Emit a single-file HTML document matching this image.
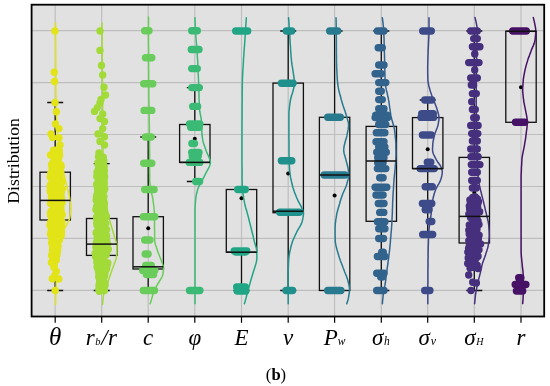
<!DOCTYPE html>
<html><head><meta charset="utf-8"><title>Distribution (b)</title>
<style>html,body{margin:0;padding:0;background:#fff}body{width:550px;height:386px;overflow:hidden}svg{display:block}</style>
</head><body>
<svg width="550" height="386" viewBox="0 0 550 386">
<rect x="31.6" y="4.7" width="512.6" height="311.8" fill="#e1e1e1"/>
<g stroke="#bebebe" stroke-width="1.2" fill="none">
<path d="M31.6 30.6H544.2"/>
<path d="M31.6 82.6H544.2"/>
<path d="M31.6 134.5H544.2"/>
<path d="M31.6 186.5H544.2"/>
<path d="M31.6 238.4H544.2"/>
<path d="M31.6 290.4H544.2"/>
<path d="M55.2 4.7V316.5"/>
<path d="M101.7 4.7V316.5"/>
<path d="M148.2 4.7V316.5"/>
<path d="M194.8 4.7V316.5"/>
<path d="M241.5 4.7V316.5"/>
<path d="M288.2 4.7V316.5"/>
<path d="M334.6 4.7V316.5"/>
<path d="M381.3 4.7V316.5"/>
<path d="M427.7 4.7V316.5"/>
<path d="M474.3 4.7V316.5"/>
<path d="M521 4.7V316.5"/>
</g>
<g stroke="#111" stroke-width="1.3" fill="none">
<rect x="40" y="172.2" width="30.4" height="47.8"/>
<path d="M55.2 172.2V102.5 M47.2 102.5H63.2"/>
<path d="M55.2 220V290.5 M47.2 290.5H63.2"/>
<rect x="86.5" y="218.5" width="30.4" height="36.9"/>
<path d="M101.7 218.5V163.6 M93.7 163.6H109.7"/>
<path d="M101.7 255.4V290.5 M93.7 290.5H109.7"/>
<rect x="133" y="216.7" width="30.4" height="52.3"/>
<path d="M148.2 216.7V137 M140.2 137H156.2"/>
<path d="M148.2 269V290.5 M140.2 290.5H156.2"/>
<rect x="179.6" y="124.5" width="30.4" height="37.9"/>
<path d="M194.8 124.5V87.6 M186.8 87.6H202.8"/>
<path d="M194.8 162.4V181.5 M186.8 181.5H202.8"/>
<rect x="226.3" y="189.5" width="30.4" height="62.7"/>
<path d="M241.5 252.2V290.5 M233.5 290.5H249.5"/>
<rect x="273" y="83.1" width="30.4" height="129.6"/>
<path d="M288.2 83.1V31 M280.2 31H296.2"/>
<path d="M288.2 212.7V290.5 M280.2 290.5H296.2"/>
<rect x="319.4" y="117.3" width="30.4" height="173.2"/>
<path d="M334.6 117.3V31 M326.6 31H342.6"/>
<rect x="366.1" y="126.4" width="30.4" height="94.9"/>
<path d="M381.3 126.4V31 M373.3 31H389.3"/>
<path d="M381.3 221.3V290.5 M373.3 290.5H389.3"/>
<rect x="412.5" y="117.6" width="30.4" height="51"/>
<path d="M427.7 117.6V100 M419.7 100H435.7"/>
<path d="M427.7 168.6V234.5 M419.7 234.5H435.7"/>
<rect x="459.1" y="157.4" width="30.4" height="85.6"/>
<path d="M474.3 157.4V31 M466.3 31H482.3"/>
<path d="M474.3 243V290.5 M466.3 290.5H482.3"/>
<rect x="505.8" y="31.3" width="30.4" height="91"/>
</g>
<g fill="#000">
<circle cx="55.2" cy="199" r="2"/>
<circle cx="101.7" cy="235" r="2"/>
<circle cx="148.2" cy="228.2" r="2"/>
<circle cx="194.8" cy="138.7" r="2"/>
<circle cx="241.5" cy="198.3" r="2"/>
<circle cx="288.2" cy="173.5" r="2"/>
<circle cx="334.6" cy="195.4" r="2"/>
<circle cx="381.3" cy="170" r="2"/>
<circle cx="427.7" cy="149.3" r="2"/>
<circle cx="474.3" cy="192.8" r="2"/>
<circle cx="521" cy="87.2" r="2"/>
</g>
<g fill="#e2e418" stroke="#e2e418" stroke-linecap="round">
<path stroke-width="7.4" d="M54.9 30.9h0M54.2 72.2h0M54.5 81.5h0M55 102.5h0M56.4 111.7h0M55.5 124h0M59 128.6h0M51 134h0M52.5 137.5h0M59 137.7h0M60 145h0M54.5 151.4h0M50.5 155h0M55.2 290.5h0M52.2 278.8h0M58.8 279h0M51.4 262.4h0M56.3 260h0M53.9 267.3h0M56.3 271.4h0M54.7 275.5h0M53.6 150.3h0M55.8 150.2h0M59.3 151h0M56.2 150.6h0M54.6 152h0M57.4 152.3h0M55.4 152.6h0M54.7 153.4h0M54.1 154h0M59.4 153.5h0M57 155.5h0M54.1 155h0M59.5 155.6h0M56.4 156.3h0M57.6 157h0M53.8 157h0M55.1 158h0M55.1 158.3h0M58.6 158.8h0M56.8 158.8h0M55.8 159.9h0M57.6 159.9h0M55.8 161.2h0M55.4 161.4h0M53.1 162.2h0M55.4 161.9h0M57.5 163h0M55.3 162.5h0M52 164.2h0M56.5 164.2h0M61 165.2h0M51.5 164.8h0M57.2 165.7h0M61.2 166.4h0M60 167h0M59.9 166.6h0M54.1 168h0M58.9 168h0M52.1 168.8h0M54.2 168.8h0M52.4 169.9h0M55.6 170.3h0M59.6 171h0M55.7 171.3h0M60.7 172.2h0M59.7 172.4h0M50.7 173.4h0M53.5 173h0M59.8 174.2h0M52 174.2h0M50.9 174.9h0M60 174.9h0M57.4 176.2h0M60.1 176.3h0M50.2 176.9h0M55.7 176.6h0M56.7 178.1h0M60.2 178.4h0M51.7 178.7h0M58.1 178.6h0M52.8 180.1h0M52.2 180.3h0M60.6 180.5h0M56.6 181.3h0M62 181.8h0M52.1 182.4h0M61.2 182.7h0M55.5 183.2h0M60.4 183.7h0M58.2 184.3h0M56.8 184.7h0M50.5 184.8h0M60 185.5h0M50.2 185.9h0M50.8 186.6h0M50.3 187h0M58.6 187.9h0M51.7 187.8h0M57.3 189.4h0M62.3 188.7h0M50.2 190.3h0M61.5 190h0M59.5 191.4h0M57.6 191.4h0M50.3 191.8h0M53.5 191.6h0M61.3 192.5h0M58.3 192.6h0M54.5 193.9h0M52.3 194h0M56.6 194.8h0M59.1 194.7h0M52.4 195.9h0M54.7 195.7h0M61.4 197.3h0M51.3 196.9h0M52.9 198h0M53.4 198h0M61.4 198.9h0M58.1 199.1h0M59.3 199.6h0M59.2 200.4h0M57.5 200.8h0M58.3 201.2h0M58.1 201.6h0M62.1 202.5h0M55.3 203.1h0M50.5 203.5h0M60.2 204.1h0M59.4 203.7h0M53.8 204.7h0M57.4 204.6h0M61.1 206h0M55.5 205.6h0M58.5 207.3h0M57.8 206.7h0M59.8 207.6h0M60.3 208.1h0M53.6 209h0M57.8 208.8h0M60.5 209.9h0M61.1 210.3h0M51.2 211.1h0M53.8 211.3h0M56.7 212h0M61.1 211.6h0M56.9 212.8h0M50.4 213.3h0M57 214.4h0M57.4 213.8h0M62.3 214.6h0M50.6 215.2h0M54.6 215.9h0M60.9 215.8h0M61.1 217.1h0M54.1 216.6h0M53 218.5h0M55 217.7h0M53.7 219.4h0M52 219.3h0M51.6 220.5h0M56.6 219.5h0M61.6 220.9h0M59.1 221h0M51.1 221.6h0M51.8 221.7h0M50.6 222.5h0M61.8 222.6h0M56.3 223.6h0M52.6 224.3h0M61.7 225h0M50 225.5h0M50.5 225.9h0M56.7 226.4h0M60.3 227.1h0M54.9 227.3h0M60.8 228.4h0M58.9 227.6h0M53.7 229h0M56.3 229.3h0M52.9 230.2h0M54.6 230.3h0M52.4 231h0M51.3 230.7h0M61.5 231.8h0M61 232h0M50.7 233.3h0M50.9 233.3h0M50.5 234.2h0M52.3 233.8h0M61.4 235h0M58 235.2h0M51.8 236.3h0M60.8 235.7h0M56.7 236.8h0M58.8 236.5h0M56.3 238.3h0M58.7 237.6h0M59.7 238.7h0M59.4 239h0M52.7 240.2h0M59.3 240.2h0M58.5 239.8h0M51.9 239.6h0M54.6 240.9h0M53 241h0M52.4 241.5h0M54.1 241.8h0M53.9 243.4h0M51.6 243.1h0M55.5 243.8h0M54.1 244.5h0M53 245.2h0M57 244.9h0M58.1 246.1h0M54.3 246.2h0M53.7 247.2h0M52.6 247.4h0M54.6 247.7h0M53.8 248.4h0M56.5 249h0M53.2 248.9h0M57.7 249.6h0M57 250.4h0M52.4 250.8h0M54.8 251.3h0M57.3 252.5h0M52.9 251.7h0M54.2 253.1h0M55.3 252.6h0M55.2 254.4h0M56.8 254.4h0M56.8 255.5h0M51.6 255.4h0M53 255.8h0M54.1 256.5h0M54.9 256.9h0M53.6 257.4h0M56 257.6h0M53 257.9h0"/>
<path fill="none" stroke-width="1.5" stroke-linejoin="round" d="M55.5 23 L55.5 25 L55.5 27 L55.6 29 L55.6 31 L55.6 33 L55.6 35 L55.6 37 L55.6 39 L55.7 41 L55.7 43 L55.7 45 L55.7 47 L55.7 49 L55.7 51 L55.8 53 L55.8 55 L55.8 57 L55.8 59 L55.8 61 L55.8 63 L55.8 65 L55.8 67 L55.8 69 L55.9 71 L55.9 73 L55.9 75 L55.9 77 L55.9 79 L55.9 81 L55.9 83 L55.9 85 L55.9 87 L55.9 89 L55.9 91 L55.9 93 L56 95 L56 97 L56 99 L56 101 L56 103 L56.1 105 L56.1 107 L56.2 109 L56.3 111 L56.4 113 L56.5 115 L56.6 117 L56.7 119 L56.8 121 L56.9 123 L57 125 L57.1 127 L57.3 129 L57.5 131 L57.6 133 L57.9 135 L58.1 137 L58.3 139 L58.5 141 L58.8 143 L59 145 L59.2 147 L59.5 149 L59.7 151 L60 153 L60.3 155 L60.6 157 L60.9 159 L61.2 161 L61.5 163 L61.9 165 L62.3 167 L62.7 169 L63.1 171 L63.6 173 L64.1 175 L64.6 177 L65 179 L65.5 181 L66 183 L66.5 185 L67 187 L67.5 189 L68.1 191 L68.6 193 L69.1 195 L69.5 197 L69.8 199 L70.1 201 L70.3 203 L70.5 205 L70.6 207 L70.6 209 L70.5 211 L70.4 213 L70.2 215 L70 217 L69.5 219 L68.7 221 L67.6 223 L66.5 225 L65.5 227 L64.4 229 L63.3 231 L62.3 233 L61.5 235 L60.9 237 L60.4 239 L60 241 L59.6 243 L59.2 245 L58.9 247 L58.6 249 L58.4 251 L58.2 253 L57.9 255 L57.7 257 L57.6 259 L57.4 261 L57.2 263 L57.1 265 L57 267 L56.9 269 L56.7 271 L56.6 273 L56.6 275 L56.5 277 L56.4 279 L56.3 281 L56.2 283 L56.2 285 L56.1 287 L56 289 L56 291 L55.9 293 L55.8 295 L55.8 297 L55.7 299 L55.7 301 L55.6 303 L55.6 304.5"/>
</g>
<g fill="#a2da37" stroke="#a2da37" stroke-linecap="round">
<path stroke-width="7.4" d="M100 31h0M100 50.4h0M101.5 65.5h0M102.7 74.9h0M104 87.3h0M105.5 95h0M101 99.5h0M100 103h0M97.3 107.7h0M94.5 111.4h0M102.7 114h0M100 118.6h0M104.5 121.4h0M102.7 128.6h0M98 134h0M104.5 136.8h0M100 141.4h0M104.5 145h0M99 153h0M99.2 156.1h0M99.3 156.1h0M103.3 157.3h0M98.5 156.7h0M100.3 158.1h0M100.1 157.8h0M99.9 158.7h0M103 159.2h0M100.2 160.2h0M100.9 160h0M100 161h0M103.9 161.3h0M102.9 161.6h0M100.8 161.9h0M98 162.9h0M97.9 162.7h0M102.8 164.2h0M102.2 163.6h0M98.4 164.5h0M98 164.6h0M104.1 166.4h0M98.7 165.8h0M104.2 167.1h0M99.8 167h0M99.1 168.1h0M102.5 168h0M103.3 168.6h0M101.6 169.5h0M98.1 170h0M101.8 169.8h0M104.4 171h0M100.6 171.4h0M97 172.4h0M97.9 171.9h0M100.7 173h0M97.1 172.8h0M99.7 174.5h0M104.1 174.1h0M104.3 175.4h0M99.8 174.6h0M101.7 175.8h0M96.8 176.5h0M104.6 177h0M101.8 177.2h0M104.3 178h0M101.5 177.7h0M98.7 179h0M98.6 178.5h0M99.7 180.2h0M99 180.4h0M102.5 181.2h0M104.1 180.6h0M98.1 182.4h0M104.2 181.6h0M103.1 182.5h0M97.7 182.6h0M99.1 183.9h0M104.3 183.9h0M97.6 184.8h0M96.6 184.5h0M100.2 186h0M98.7 185.9h0M97.4 187.2h0M99.9 186.7h0M100.8 187.7h0M99 187.6h0M103.2 188.8h0M104.8 188.9h0M97.8 190.2h0M102.8 190.4h0M97.6 191.3h0M104 190.8h0M100.4 192.1h0M98.6 192.4h0M102.6 193.4h0M100.4 193h0M98.1 193.8h0M102.8 194.5h0M97.7 194.6h0M96.9 194.9h0M103.4 195.7h0M100.6 196h0M103.9 196.7h0M96.4 197h0M99.5 197.8h0M103.3 198.2h0M97 199h0M103.5 199.4h0M96.2 200.3h0M96.6 200.2h0M101.7 201.5h0M102 200.6h0M102.4 201.8h0M103.9 201.5h0M99.1 203.2h0M97.6 203.1h0M102.7 204.2h0M104.4 203.9h0M97.4 204.8h0M99.7 204.6h0M102.8 205.6h0M96.6 206.4h0M103.8 206.8h0M99.3 207.3h0M102 207.8h0M100.3 208.4h0M95.9 209.5h0M101.4 208.7h0M103.8 209.6h0M99.9 210.1h0M98.3 211.4h0M102.8 210.7h0M97.3 211.6h0M101.5 211.7h0M101.2 213.3h0M104.6 212.6h0M99.1 213.9h0M99.6 213.9h0M100.4 215.3h0M98.8 214.8h0M100.6 214.7h0M103.2 214.9h0M106.3 216.3h0M98.9 215.7h0M104.9 217.1h0M96.5 217.1h0M100.6 218.3h0M104.5 218.4h0M104 219.4h0M99.4 218.8h0M96.9 220.4h0M97.9 220.1h0M101.9 221.3h0M100.5 220.6h0M100.5 221.5h0M99.5 222.1h0M96.7 223.5h0M102.2 222.8h0M105.7 223.6h0M99.7 224.4h0M98.7 225.2h0M96.9 225h0M103.7 225.7h0M99.8 226.1h0M102.9 226.7h0M100.7 227.5h0M99.7 228.3h0M98.2 228h0M102 229.1h0M104.4 229.3h0M104.3 230.3h0M106.5 229.8h0M105.8 231h0M98.8 230.7h0M105.1 232.1h0M96.5 232.1h0M96.1 232.9h0M102.7 233.2h0M97.5 233.5h0M102.8 234.3h0M105.6 234.9h0M102.8 235.2h0M106.6 236h0M106.6 235.8h0M98.2 236.8h0M104.8 237.4h0M101.4 238.2h0M97.1 238h0M101 238.9h0M97.7 239.1h0M104.1 240.1h0M105 240h0M106.5 241.1h0M106.8 240.9h0M104.5 241.7h0M96.3 242.4h0M100.1 242.5h0M103.4 243.4h0M105.4 244.5h0M107.6 244h0M98.2 244.6h0M98.8 245.1h0M107.3 245.5h0M106 246.3h0M104.3 246.6h0M95.9 247.2h0M103.7 247.9h0M99.7 247.5h0M108.3 249.3h0M108.1 249.3h0M101.3 250.3h0M97.8 250.2h0M98.3 250.9h0M106.7 250.9h0M107 252.1h0M99.1 251.8h0M95.2 253.1h0M106.3 252.7h0M101.5 254.5h0M100.4 254.4h0M106.1 255h0M103.6 254.6h0M102 256.3h0M98.3 255.6h0M95.6 256.7h0M98.4 257.3h0M101.3 258h0M99.4 257.8h0M102.5 259.2h0M97.6 258.9h0M103.7 260.5h0M98.8 259.9h0M102.7 260.6h0M103.3 261.5h0M98.9 262h0M96.8 262h0M107.8 263h0M98.1 262.8h0M103.4 264.4h0M101.2 264h0M105.6 264.6h0M107.3 265h0M99.8 266.3h0M98.9 265.6h0M99 267.2h0M97.1 267h0M98.8 268h0M97.6 268.3h0M106.6 268.8h0M100.2 269.1h0M104.4 269.6h0M103.7 270.3h0M105 270.9h0M105.3 271h0M98.5 271.8h0M102.8 272.1h0M104.9 273.2h0M98.8 272.9h0M104.6 274h0M99 274.4h0M101.3 274.8h0M101.9 274.8h0M99.6 276.2h0M104.6 275.9h0M98.7 277h0M100.9 276.9h0M99.5 278.3h0M99.2 277.5h0M103.5 279.2h0M99.6 278.7h0M102.4 280.4h0M99.8 280h0M100 281.2h0M101.5 280.9h0M102.9 282h0M99.6 281.9h0M105 283.3h0M101.9 283.2h0M99.3 283.9h0M104.5 283.7h0M105.1 285.3h0M103.1 284.9h0M99 285.8h0M103.5 285.9h0M103.9 286.7h0M104 287.4h0M103.3 287.7h0M99.9 287.6h0M98.8 289.2h0M101.7 289.3h0M100.4 289.8h0M104.4 290.5h0M99.2 291.3h0M102.2 290.5h0"/>
<path fill="none" stroke-width="1.5" stroke-linejoin="round" d="M102 23 L102 25 L102 27 L102 29 L102.1 31 L102.1 33 L102.1 35 L102.1 37 L102.1 39 L102.1 41 L102.1 43 L102.1 45 L102.2 47 L102.2 49 L102.2 51 L102.2 53 L102.2 55 L102.2 57 L102.2 59 L102.3 61 L102.3 63 L102.3 65 L102.3 67 L102.3 69 L102.3 71 L102.3 73 L102.4 75 L102.4 77 L102.4 79 L102.4 81 L102.4 83 L102.4 85 L102.5 87 L102.5 89 L102.5 91 L102.5 93 L102.5 95 L102.5 97 L102.5 99 L102.5 101 L102.6 103 L102.6 105 L102.6 107 L102.6 109 L102.6 111 L102.6 113 L102.6 115 L102.6 117 L102.7 119 L102.7 121 L102.7 123 L102.7 125 L102.7 127 L102.7 129 L102.8 131 L102.8 133 L102.8 135 L102.8 137 L102.9 139 L102.9 141 L102.9 143 L102.9 145 L103 147 L103 149 L103 151 L103.1 153 L103.1 155 L103.2 157 L103.2 159 L103.3 161 L103.4 163 L103.4 165 L103.5 167 L103.6 169 L103.7 171 L103.8 173 L103.9 175 L104 177 L104.1 179 L104.3 181 L104.4 183 L104.5 185 L104.7 187 L104.9 189 L105 191 L105.2 193 L105.4 195 L105.7 197 L105.9 199 L106.1 201 L106.4 203 L106.6 205 L106.9 207 L107.2 209 L107.6 211 L107.9 213 L108.3 215 L108.7 217 L109.2 219 L109.8 221 L110.4 223 L111 225 L111.6 227 L112.2 229 L112.8 231 L113.4 233 L114 235 L114.6 237 L115.3 239 L115.9 241 L116.4 243 L116.8 245 L116.8 247 L116.8 249 L116.7 251 L116.7 253 L116.6 255 L116.4 257 L116 259 L115.4 261 L114.6 263 L113.9 265 L113.1 267 L112.3 269 L111.7 271 L111 273 L110.3 275 L109.6 277 L108.9 279 L108.2 281 L107.5 283 L106.8 285 L106.1 287 L105.3 289 L104.6 291 L104 293 L103.6 295 L103.3 297 L103 299 L102.8 301 L102.6 303 L102.6 304.5"/>
</g>
<g fill="#69cc5b" stroke="#69cc5b" stroke-linecap="round">
<path stroke-width="7.4" d="M144.7 30.8H149M145.5 57.7H151.8M143.7 83.7H152.8M144.1 110.4H151.8M145.5 137H151.3M143.7 163.3H151.8M144.7 189.5H154.1M143.3 216.7H154.8M144.7 240H149.9M145.2 254H148.1M145.7 265.5H151.3M142.7 270.5H154.8M146.4 274.6H153.6M143.3 290.5H154.5"/>
<path fill="none" stroke-width="1.5" stroke-linejoin="round" d="M148.5 17 L148.5 19 L148.5 21 L148.5 23 L148.5 25 L148.5 27 L148.5 29 L148.5 31 L148.5 33 L148.5 35 L148.5 37 L148.5 39 L148.5 41 L148.5 43 L148.5 45 L148.6 47 L148.6 49 L148.6 51 L148.6 53 L148.6 55 L148.6 57 L148.6 59 L148.6 61 L148.6 63 L148.6 65 L148.6 67 L148.6 69 L148.7 71 L148.7 73 L148.7 75 L148.7 77 L148.7 79 L148.7 81 L148.7 83 L148.7 85 L148.8 87 L148.8 89 L148.8 91 L148.8 93 L148.8 95 L148.9 97 L148.9 99 L148.9 101 L149 103 L149 105 L149 107 L149.1 109 L149.1 111 L149.1 113 L149.2 115 L149.2 117 L149.2 119 L149.3 121 L149.3 123 L149.3 125 L149.4 127 L149.4 129 L149.4 131 L149.4 133 L149.5 135 L149.5 137 L149.5 139 L149.5 141 L149.5 143 L149.5 145 L149.5 147 L149.5 149 L149.6 151 L149.6 153 L149.6 155 L149.6 157 L149.6 159 L149.6 161 L149.6 163 L149.6 165 L149.6 167 L149.6 169 L149.6 171 L149.6 173 L149.7 175 L149.7 177 L149.7 179 L149.7 181 L149.9 183 L150.2 185 L150.5 187 L150.8 189 L151.2 191 L151.6 193 L152 195 L152.5 197 L152.9 199 L153.1 201 L153.4 203 L153.6 205 L153.9 207 L154.1 209 L154.3 211 L154.4 213 L154.5 215 L154.5 217 L154.5 219 L154.5 221 L154.5 223 L154.5 225 L154.5 227 L154.5 229 L154.6 231 L154.6 233 L154.6 235 L154.6 237 L154.6 239 L154.7 241 L155 243 L155.6 245 L156.3 247 L157 249 L157.6 251 L158.3 253 L159.1 255 L159.9 257 L160.7 259 L161.4 261 L162.2 263 L162.9 265 L163.4 267 L163.5 269 L163.3 271 L163.1 273 L162.7 275 L162 277 L160.9 279 L159.6 281 L158.4 283 L157.2 285 L156 287 L154.9 289 L154.1 291 L153.4 293 L152.8 295 L152.2 297 L151.6 299 L151 301 L150.4 303 L150.2 303.7"/>
</g>
<g fill="#3bba75" stroke="#3bba75" stroke-linecap="round">
<path stroke-width="7.4" d="M191.7 30.8H197.3M191.3 49.5H199M191.7 68.6H197.3M191.7 87.6H199.3M192.7 106.4H197.6M189.5 124H199.9M190.7 127.3H199.3M191.9 143.5H194.5M191.7 152.5H199M192.2 156H198.3M189.2 162.4H199.9M195.7 181.5H199.6M189.5 290.5H199.9"/>
<path fill="none" stroke-width="1.5" stroke-linejoin="round" d="M195 17.7 L195 19.7 L195.1 21.7 L195.2 23.7 L195.3 25.7 L195.3 27.7 L195.4 29.7 L195.5 31.7 L195.7 33.7 L195.8 35.7 L196 37.7 L196.1 39.7 L196.3 41.7 L196.5 43.7 L196.7 45.7 L196.8 47.7 L197 49.7 L197.1 51.7 L197.2 53.7 L197.3 55.7 L197.4 57.7 L197.6 59.7 L197.7 61.7 L197.8 63.7 L197.9 65.7 L198 67.7 L198 69.7 L198.1 71.7 L198.2 73.7 L198.3 75.7 L198.4 77.7 L198.5 79.7 L198.6 81.7 L198.6 83.7 L198.7 85.7 L198.8 87.7 L198.8 89.7 L198.9 91.7 L198.9 93.7 L199 95.7 L199 97.7 L199.1 99.7 L199.2 101.7 L199.3 103.7 L199.3 105.7 L199.5 107.7 L199.6 109.7 L199.8 111.7 L200.2 113.7 L200.6 115.7 L201 117.7 L201.3 119.7 L201.4 121.7 L201.5 123.7 L201.5 125.7 L201.6 127.7 L201.7 129.7 L201.8 131.7 L202 133.7 L202.1 135.7 L202.4 137.7 L202.7 139.7 L203.1 141.7 L203.7 143.7 L204.4 145.7 L205.1 147.7 L205.8 149.7 L206.5 151.7 L207.3 153.7 L208.3 155.7 L209.2 157.7 L209.9 159.7 L210.4 161.7 L210.2 163.7 L209.7 165.7 L208.9 167.7 L207.8 169.7 L206.7 171.7 L205.6 173.7 L204.6 175.7 L203.6 177.7 L202.6 179.7 L201.6 181.7 L200.5 183.7 L199.3 185.7 L198.3 187.7 L197.6 189.7 L197.1 191.7 L196.6 193.7 L196.2 195.7 L195.9 197.7 L195.6 199.7 L195.5 201.7 L195.3 203.7 L195.2 205.7 L195.1 207.7 L195 209.7 L195 211.7 L195 213.7 L195 215.7 L195 217.7 L195 219.7 L195 221.7 L195 223.7 L195 225.7 L195 227.7 L195 229.7 L195 231.7 L195 233.7 L195 235.7 L195 237.7 L195 239.7 L195 241.7 L195 243.7 L195 245.7 L195 247.7 L195 249.7 L195 251.7 L195 253.7 L195 255.7 L195 257.7 L195 259.7 L195 261.7 L195 263.7 L195 265.7 L195 267.7 L195 269.7 L195 271.7 L195 273.7 L195 275.7 L195 277.7 L195 279.7 L195 281.7 L195 283.7 L195 285.7 L195 287.7 L195 289.7 L195 291.7 L195 293.7 L195 295.7 L195 297.7 L195 299.7 L195 301.7 L195 303.7"/>
</g>
<g fill="#21a685" stroke="#21a685" stroke-linecap="round">
<path stroke-width="7.4" d="M235.7 31H247.7M237.7 189.5H245.3M234.2 251H246.8M235.7 252H245.3M236.7 287H245.3M237.2 291H245.8"/>
<path fill="none" stroke-width="1.5" stroke-linejoin="round" d="M246.3 17.7 L246.2 19.7 L246.1 21.7 L245.9 23.7 L245.8 25.7 L245.7 27.7 L245.6 29.7 L245.5 31.7 L245.3 33.7 L245.2 35.7 L245 37.7 L244.9 39.7 L244.8 41.7 L244.6 43.7 L244.5 45.7 L244.3 47.7 L244.2 49.7 L244 51.7 L243.9 53.7 L243.8 55.7 L243.6 57.7 L243.5 59.7 L243.4 61.7 L243.3 63.7 L243.2 65.7 L243 67.7 L242.9 69.7 L242.8 71.7 L242.7 73.7 L242.6 75.7 L242.5 77.7 L242.4 79.7 L242.4 81.7 L242.3 83.7 L242.3 85.7 L242.3 87.7 L242.3 89.7 L242.2 91.7 L242.2 93.7 L242.2 95.7 L242.2 97.7 L242.2 99.7 L242.2 101.7 L242.1 103.7 L242.1 105.7 L242.1 107.7 L242.1 109.7 L242.1 111.7 L242.1 113.7 L242.1 115.7 L242.1 117.7 L242.1 119.7 L242 121.7 L242 123.7 L242 125.7 L242 127.7 L242 129.7 L242 131.7 L242 133.7 L242 135.7 L242 137.7 L242 139.7 L242 141.7 L242 143.7 L242 145.7 L242 147.7 L242 149.7 L242 151.7 L242 153.7 L242 155.7 L242 157.7 L242 159.7 L242 161.7 L242 163.7 L242 165.7 L242.1 167.7 L242.1 169.7 L242.1 171.7 L242.1 173.7 L242.1 175.7 L242.1 177.7 L242.1 179.7 L242.2 181.7 L242.2 183.7 L242.2 185.7 L242.3 187.7 L242.5 189.7 L242.7 191.7 L243 193.7 L243.3 195.7 L243.6 197.7 L244 199.7 L244.3 201.7 L244.7 203.7 L245.2 205.7 L245.7 207.7 L246.3 209.7 L246.9 211.7 L247.4 213.7 L248 215.7 L248.5 217.7 L249 219.7 L249.5 221.7 L250 223.7 L250.5 225.7 L251 227.7 L251.5 229.7 L252 231.7 L252.5 233.7 L253 235.7 L253.4 237.7 L253.9 239.7 L254.4 241.7 L255 243.7 L255.6 245.7 L256.2 247.7 L256.6 249.7 L256.8 251.7 L256.8 253.7 L256.9 255.7 L256.9 257.7 L256.8 259.7 L256.4 261.7 L255.9 263.7 L255.3 265.7 L254.7 267.7 L254 269.7 L253.4 271.7 L252.8 273.7 L252.2 275.7 L251.6 277.7 L251 279.7 L250.4 281.7 L249.9 283.7 L249.3 285.7 L248.8 287.7 L248.2 289.7 L247.7 291.7 L247.2 293.7 L246.6 295.7 L246.1 297.7 L245.5 299.7 L245 301.7 L244.4 303.7"/>
</g>
<g fill="#20908c" stroke="#20908c" stroke-linecap="round">
<path stroke-width="7.4" d="M286.3 31H291.7M281.4 83.2H293.1M281.4 160.8H291.8M279.7 212.3H299.3M286 290.5H292.6"/>
<path fill="none" stroke-width="1.5" stroke-linejoin="round" d="M288.6 17.7 L288.7 19.7 L288.9 21.7 L289 23.7 L289.1 25.7 L289.3 27.7 L289.4 29.7 L289.5 31.7 L289.7 33.7 L289.8 35.7 L289.9 37.7 L290 39.7 L290.1 41.7 L290.2 43.7 L290.4 45.7 L290.5 47.7 L290.6 49.7 L290.7 51.7 L290.9 53.7 L291 55.7 L291.2 57.7 L291.4 59.7 L291.6 61.7 L291.8 63.7 L292.1 65.7 L292.5 67.7 L292.8 69.7 L293.1 71.7 L293.4 73.7 L293.7 75.7 L294 77.7 L294.3 79.7 L294.6 81.7 L294.6 83.7 L294.3 85.7 L293.8 87.7 L293.3 89.7 L292.8 91.7 L292.2 93.7 L291.5 95.7 L291 97.7 L290.5 99.7 L290.2 101.7 L289.9 103.7 L289.6 105.7 L289.4 107.7 L289.2 109.7 L289 111.7 L288.9 113.7 L288.9 115.7 L288.9 117.7 L288.9 119.7 L288.9 121.7 L288.9 123.7 L288.9 125.7 L288.9 127.7 L288.9 129.7 L288.9 131.7 L288.9 133.7 L288.9 135.7 L288.9 137.7 L289 139.7 L289 141.7 L289 143.7 L289 145.7 L289 147.7 L289 149.7 L289 151.7 L289 153.7 L289.1 155.7 L289.1 157.7 L289.2 159.7 L289.2 161.7 L289.3 163.7 L289.4 165.7 L289.5 167.7 L289.6 169.7 L289.7 171.7 L290 173.7 L290.3 175.7 L290.6 177.7 L291.1 179.7 L291.5 181.7 L292 183.7 L292.5 185.7 L293 187.7 L293.7 189.7 L294.3 191.7 L295.1 193.7 L295.9 195.7 L296.7 197.7 L297.6 199.7 L298.5 201.7 L299.6 203.7 L300.7 205.7 L301.7 207.7 L302.6 209.7 L303.3 211.7 L303.5 213.7 L303.3 215.7 L303 217.7 L302.6 219.7 L302.1 221.7 L301.4 223.7 L300.4 225.7 L299.2 227.7 L298 229.7 L296.9 231.7 L296 233.7 L295 235.7 L294.1 237.7 L293.2 239.7 L292.4 241.7 L291.8 243.7 L291.2 245.7 L290.7 247.7 L290.3 249.7 L289.8 251.7 L289.5 253.7 L289.1 255.7 L288.9 257.7 L288.7 259.7 L288.6 261.7 L288.5 263.7 L288.4 265.7 L288.3 267.7 L288.3 269.7 L288.2 271.7 L288.2 273.7 L288.2 275.7 L288.2 277.7 L288.2 279.7 L288.2 281.7 L288.2 283.7 L288.2 285.7 L288.2 287.7 L288.2 289.7 L288.2 291.7 L288.2 293.7 L288.2 295.7 L288.2 297.7 L288.2 299.7 L288.2 301.7 L288.2 303.7"/>
</g>
<g fill="#287a8e" stroke="#287a8e" stroke-linecap="round">
<path stroke-width="7.4" d="M329.7 31H337.7M327.7 117.3H340.3M324.2 175H344.9M327.7 290.5H340.9"/>
<path fill="none" stroke-width="1.5" stroke-linejoin="round" d="M336 17.7 L336.1 19.7 L336.1 21.7 L336.2 23.7 L336.2 25.7 L336.2 27.7 L336.3 29.7 L336.3 31.7 L336.3 33.7 L336.3 35.7 L336.4 37.7 L336.4 39.7 L336.4 41.7 L336.4 43.7 L336.4 45.7 L336.4 47.7 L336.4 49.7 L336.4 51.7 L336.4 53.7 L336.5 55.7 L336.5 57.7 L336.5 59.7 L336.5 61.7 L336.6 63.7 L336.6 65.7 L336.7 67.7 L336.8 69.7 L336.9 71.7 L337 73.7 L337.1 75.7 L337.2 77.7 L337.3 79.7 L337.5 81.7 L337.7 83.7 L338 85.7 L338.3 87.7 L338.7 89.7 L339.2 91.7 L339.7 93.7 L340.3 95.7 L340.8 97.7 L341.3 99.7 L341.9 101.7 L342.5 103.7 L343.1 105.7 L343.8 107.7 L344.5 109.7 L345.2 111.7 L345.8 113.7 L346.4 115.7 L347 117.7 L347.6 119.7 L348.1 121.7 L348.5 123.7 L348.6 125.7 L348.4 127.7 L348.1 129.7 L347.7 131.7 L347.3 133.7 L346.9 135.7 L346.4 137.7 L345.8 139.7 L345.2 141.7 L344.7 143.7 L344.2 145.7 L343.9 147.7 L343.7 149.7 L343.8 151.7 L344.2 153.7 L344.8 155.7 L345.4 157.7 L345.9 159.7 L346.4 161.7 L347 163.7 L347.5 165.7 L348 167.7 L348.3 169.7 L348.4 171.7 L348.6 173.7 L348.6 175.7 L348.4 177.7 L348 179.7 L347.4 181.7 L346.9 183.7 L346.3 185.7 L345.5 187.7 L344.6 189.7 L343.7 191.7 L342.8 193.7 L342.1 195.7 L341.4 197.7 L340.7 199.7 L340.1 201.7 L339.6 203.7 L339 205.7 L338.4 207.7 L337.8 209.7 L337.3 211.7 L336.8 213.7 L336.5 215.7 L336.2 217.7 L335.8 219.7 L335.6 221.7 L335.3 223.7 L335.2 225.7 L335.1 227.7 L335.1 229.7 L335.1 231.7 L335.1 233.7 L335.1 235.7 L335.2 237.7 L335.2 239.7 L335.3 241.7 L335.6 243.7 L336 245.7 L336.5 247.7 L337 249.7 L337.6 251.7 L338.2 253.7 L338.8 255.7 L339.4 257.7 L340.1 259.7 L340.8 261.7 L341.6 263.7 L342.4 265.7 L343.1 267.7 L343.9 269.7 L344.6 271.7 L345.4 273.7 L346.3 275.7 L347 277.7 L347.7 279.7 L348.2 281.7 L348.7 283.7 L349.1 285.7 L349.4 287.7 L349.5 289.7 L349.4 291.7 L349.2 293.7 L348.8 295.7 L348.5 297.7 L348 299.7 L347.4 301.7 L346.8 303.7"/>
</g>
<g fill="#32638d" stroke="#32638d" stroke-linecap="round">
<path stroke-width="7.4" d="M377.4 31H384M378.2 47.7H382.3M378.7 65H384M375.1 73.7H381.3M378.7 82.6H385.8M378.7 91.3H381.3M378.7 99.6H382.3M378.7 108.7H384M375.7 115.3H387.3M375.1 117.6H387.7M378.7 124.5H385.8M376.3 132.7H384.9M376 141.8H384M378.7 147H384.9M376.7 152.3H386.3M377.7 157.7H384M377.7 162.8H383.1M377.4 168.6H385.8M379.7 177.7H383.1M375.1 187.2H386.8M376 195H383.1M378.3 203.5H384M379.7 212.4H383.8M377.4 221.8H384.9M378.7 228.7H384.9M378.7 238.5H383.5M381.7 252.2H383.3M377.4 256.5H384.9M376.7 273.2H384M380.7 277H382.3M376.7 290.5H384"/>
<path fill="none" stroke-width="1.5" stroke-linejoin="round" d="M382.3 17.7 L382.6 19.7 L382.8 21.7 L383.1 23.7 L383.3 25.7 L383.5 27.7 L383.6 29.7 L383.7 31.7 L383.8 33.7 L383.9 35.7 L384 37.7 L384.1 39.7 L384.1 41.7 L384.2 43.7 L384.2 45.7 L384.3 47.7 L384.3 49.7 L384.4 51.7 L384.4 53.7 L384.5 55.7 L384.5 57.7 L384.6 59.7 L384.6 61.7 L384.7 63.7 L384.7 65.7 L384.8 67.7 L384.8 69.7 L384.9 71.7 L384.9 73.7 L385 75.7 L385 77.7 L385.1 79.7 L385.2 81.7 L385.3 83.7 L385.6 85.7 L385.9 87.7 L386.3 89.7 L386.8 91.7 L387.3 93.7 L387.7 95.7 L388.2 97.7 L388.5 99.7 L388.9 101.7 L389.2 103.7 L389.4 105.7 L389.7 107.7 L390 109.7 L390.3 111.7 L390.6 113.7 L390.9 115.7 L391.4 117.7 L391.9 119.7 L392.5 121.7 L393.1 123.7 L393.6 125.7 L394.1 127.7 L394.5 129.7 L394.7 131.7 L395 133.7 L395.2 135.7 L395.4 137.7 L395.6 139.7 L395.8 141.7 L395.9 143.7 L395.9 145.7 L395.9 147.7 L396 149.7 L396 151.7 L396 153.7 L396 155.7 L395.9 157.7 L395.8 159.7 L395.7 161.7 L395.5 163.7 L395.3 165.7 L395.2 167.7 L395 169.7 L394.8 171.7 L394.6 173.7 L394.4 175.7 L394.2 177.7 L394 179.7 L393.9 181.7 L393.7 183.7 L393.6 185.7 L393.5 187.7 L393.4 189.7 L393.2 191.7 L393.1 193.7 L393 195.7 L392.9 197.7 L392.8 199.7 L392.7 201.7 L392.6 203.7 L392.6 205.7 L392.5 207.7 L392.4 209.7 L392.4 211.7 L392.3 213.7 L392.2 215.7 L392.1 217.7 L392 219.7 L391.9 221.7 L391.8 223.7 L391.7 225.7 L391.5 227.7 L391.4 229.7 L391.2 231.7 L391 233.7 L390.9 235.7 L390.7 237.7 L390.5 239.7 L390.4 241.7 L390.2 243.7 L390 245.7 L389.8 247.7 L389.6 249.7 L389.4 251.7 L389.1 253.7 L388.9 255.7 L388.7 257.7 L388.4 259.7 L388.1 261.7 L387.9 263.7 L387.6 265.7 L387.3 267.7 L387 269.7 L386.8 271.7 L386.5 273.7 L386.3 275.7 L386 277.7 L385.8 279.7 L385.5 281.7 L385.2 283.7 L384.9 285.7 L384.5 287.7 L384.1 289.7 L383.7 291.7 L383.4 293.7 L383.1 295.7 L382.9 297.7 L382.7 299.7 L382.5 301.7 L382.4 303.7"/>
</g>
<g fill="#3d4b89" stroke="#3d4b89" stroke-linecap="round">
<path stroke-width="7.4" d="M422.7 31H431.3M424.7 100H431.8M421.7 113.8H433.3M421 117.4H433.6M422.4 135H431.3M427.3 162.3H430.8M420.1 168.6H434.3M425.2 186.8H432.3M422.4 203.5H431.8M425.2 209.7H429M429.2 221.5H431.8M422.7 234.5H432.7M424.7 290.5H429.9"/>
<path fill="none" stroke-width="1.5" stroke-linejoin="round" d="M429 17.7 L429 19.7 L429 21.7 L429 23.7 L429 25.7 L429 27.7 L429 29.7 L429 31.7 L429 33.7 L428.9 35.7 L428.8 37.7 L428.7 39.7 L428.6 41.7 L428.5 43.7 L428.4 45.7 L428.3 47.7 L428.2 49.7 L428.1 51.7 L428.1 53.7 L428 55.7 L427.9 57.7 L427.9 59.7 L427.8 61.7 L427.8 63.7 L427.7 65.7 L427.7 67.7 L427.7 69.7 L427.7 71.7 L427.7 73.7 L427.8 75.7 L427.8 77.7 L427.9 79.7 L428 81.7 L428.4 83.7 L428.8 85.7 L429.4 87.7 L429.9 89.7 L430.5 91.7 L431.2 93.7 L431.9 95.7 L432.7 97.7 L433.5 99.7 L434.2 101.7 L435.1 103.7 L435.8 105.7 L436.6 107.7 L437.2 109.7 L437.8 111.7 L438.3 113.7 L438.8 115.7 L439 117.7 L438.9 119.7 L438.6 121.7 L438.3 123.7 L437.8 125.7 L437.2 127.7 L436.4 129.7 L435.6 131.7 L434.9 133.7 L434.3 135.7 L433.9 137.7 L433.4 139.7 L433.1 141.7 L432.8 143.7 L432.7 145.7 L432.6 147.7 L432.5 149.7 L432.7 151.7 L433.3 153.7 L434.2 155.7 L435.2 157.7 L436.2 159.7 L437.5 161.7 L439 163.7 L440.4 165.7 L441.3 167.7 L441.9 169.7 L442.3 171.7 L442.2 173.7 L441.8 175.7 L441.3 177.7 L440.7 179.7 L439.9 181.7 L438.9 183.7 L437.7 185.7 L436.6 187.7 L435.6 189.7 L434.9 191.7 L434.2 193.7 L433.7 195.7 L433.2 197.7 L432.8 199.7 L432.4 201.7 L432.2 203.7 L432 205.7 L431.7 207.7 L431.6 209.7 L431.4 211.7 L431.2 213.7 L430.9 215.7 L430.6 217.7 L430.3 219.7 L430 221.7 L429.7 223.7 L429.4 225.7 L429.2 227.7 L429 229.7 L428.9 231.7 L428.8 233.7 L428.7 235.7 L428.6 237.7 L428.5 239.7 L428.4 241.7 L428.4 243.7 L428.3 245.7 L428.2 247.7 L428.2 249.7 L428.2 251.7 L428.1 253.7 L428.1 255.7 L428.1 257.7 L428 259.7 L428 261.7 L428 263.7 L428 265.7 L428 267.7 L427.9 269.7 L427.9 271.7 L427.9 273.7 L427.9 275.7 L427.9 277.7 L427.9 279.7 L427.9 281.7 L427.9 283.7 L427.8 285.7 L427.8 287.7 L427.8 289.7 L427.8 291.7 L427.8 293.7 L427.8 295.7 L427.8 297.7 L427.8 299.7 L427.8 301.7 L427.8 303.7"/>
</g>
<g fill="#46307d" stroke="#46307d" stroke-linecap="round">
<path stroke-width="7.4" d="M468.7 275h0M472.7 282.3h0M476.4 283h0M471 290.5h0M470 268h0M478 268.5h0M480.6 244h0M467.7 263.5h0M468.2 258h0M475 196.8h0M472.7 197.5h0M476.2 197.6h0M475.6 197.5h0M477.6 199.1h0M475.2 198.5h0M469.9 200h0M472.8 200.3h0M471.9 200.9h0M470.3 201h0M478.5 201.8h0M476.9 201.7h0M477.8 203h0M470.3 203.3h0M477.9 203.6h0M470.2 203.8h0M474.2 205.5h0M477.6 204.8h0M469.3 206.1h0M474.8 205.7h0M475.1 207.5h0M470.4 206.8h0M477.7 207.7h0M470.1 207.7h0M476.9 208.6h0M469.6 209.1h0M477 210.3h0M473.3 210.4h0M470 210.9h0M472.5 211h0M470.4 211.6h0M479.7 211.8h0M474 213.4h0M471.8 212.9h0M474.7 213.6h0M468.8 214.1h0M472.6 214.6h0M471.7 215.2h0M476.6 216h0M471.2 216.3h0M471 217.3h0M470.5 217.4h0M476.8 218h0M473.3 218.1h0M475.7 219.1h0M476 218.6h0M473.1 220.3h0M473.4 220.5h0M474.4 220.8h0M478 220.9h0M474.5 222.1h0M477.7 221.7h0M477.9 223.1h0M472.6 222.8h0M479 224.4h0M474.5 223.8h0M478.9 224.5h0M469.3 225h0M474.9 225.5h0M470.7 225.6h0M471.4 226.7h0M470.1 226.6h0M472.7 227.6h0M476.9 227.9h0M470 229.2h0M477 228.9h0M468.8 230.2h0M476.7 230.4h0M476.2 231.1h0M472.3 230.7h0M469.4 232.3h0M474.6 231.8h0M470 232.8h0M476.7 232.7h0M469.2 233.9h0M472.3 234.2h0M474.6 235h0M479.1 235.3h0M470 235.7h0M473.1 235.6h0M476.8 237.3h0M471.8 237.4h0M474.6 237.7h0M475.3 238.2h0M476.3 239.5h0M478.4 238.9h0M473.3 239.5h0M473.1 239.7h0M469.9 241.3h0M468.8 240.6h0M475.8 242.1h0M473.2 242.3h0M471.2 242.7h0M474.1 242.6h0M476.1 244.4h0M477.4 244.4h0M469.4 244.9h0M478.4 245.3h0M475 246.2h0M471.4 245.8h0M469.3 247.4h0M471.7 247.5h0M468.6 248.3h0M474.3 247.5h0M475.8 249.2h0M476.2 249.2h0M476 250.3h0M472.7 250.5h0M473 249.8h0M479 249.8h0M472.5 251.2h0M476.7 250.8h0M467.8 252.1h0M474.3 252.2h0M470.4 253.3h0M476.4 253.4h0M476.2 254.2h0M473.8 254.4h0M470.1 255.2h0M476.5 255.3h0M469 255.8h0M478.1 256.3h0M469.3 257h0M476.7 257.4h0M473.4 257.6h0M470 257.5h0M469.5 258.6h0M475.4 259.2h0M472.6 260.4h0M469.3 259.7h0M474.4 261h0M469 261.4h0M474.5 262.1h0M471.8 262.1h0M468.8 262.8h0M474.6 263.1h0M473.5 263.6h0M471.5 264.5h0M477.2 265.3h0M469.3 264.6h0M470.8 266.3h0M470.7 265.7h0M471.4 267.2h0M473.4 267.4h0"/>
<path stroke-width="7.4" d="M470.7 31H477.3M473.7 38.6H477.3M472.4 46.8H479.9M474.7 54H474.8M468.7 62.6H479M474.7 70H474.7M470.7 78H477.3M471.3 85H473.6M472.4 93.6H476.3M471.7 101.8H471.7M472.4 109.5H475.3M473.7 117.8H476.3M470.7 125.5H478.1M471.7 133.6H477.8M472.4 141H477.3M470.7 149H477.3M471 156.8H478.1M471.3 164.6H479.9M471.7 172.3H477.3M471.7 180.5H477.3M472.4 188H476.3"/>
<path fill="none" stroke-width="1.5" stroke-linejoin="round" d="M475 17.6 L475.5 19.6 L476 21.6 L476.4 23.6 L476.8 25.6 L477.1 27.6 L477.2 29.6 L477.2 31.6 L477.2 33.6 L477.2 35.6 L477.1 37.6 L477.1 39.6 L477 41.6 L477 43.6 L476.9 45.6 L476.9 47.6 L476.8 49.6 L476.8 51.6 L476.7 53.6 L476.7 55.6 L476.6 57.6 L476.6 59.6 L476.6 61.6 L476.6 63.6 L476.5 65.6 L476.5 67.6 L476.5 69.6 L476.4 71.6 L476.4 73.6 L476.4 75.6 L476.4 77.6 L476.3 79.6 L476.3 81.6 L476.3 83.6 L476.3 85.6 L476.3 87.6 L476.2 89.6 L476.2 91.6 L476.2 93.6 L476.2 95.6 L476.2 97.6 L476.2 99.6 L476.2 101.6 L476.2 103.6 L476.2 105.6 L476.2 107.6 L476.3 109.6 L476.3 111.6 L476.3 113.6 L476.3 115.6 L476.4 117.6 L476.4 119.6 L476.4 121.6 L476.5 123.6 L476.5 125.6 L476.5 127.6 L476.6 129.6 L476.6 131.6 L476.7 133.6 L476.7 135.6 L476.8 137.6 L476.8 139.6 L476.8 141.6 L476.9 143.6 L476.9 145.6 L476.9 147.6 L477 149.6 L477 151.6 L477.1 153.6 L477.1 155.6 L477.2 157.6 L477.2 159.6 L477.3 161.6 L477.4 163.6 L477.4 165.6 L477.5 167.6 L477.6 169.6 L477.7 171.6 L477.8 173.6 L478 175.6 L478.1 177.6 L478.4 179.6 L478.6 181.6 L479.1 183.6 L479.5 185.6 L480 187.6 L480.4 189.6 L480.9 191.6 L481.4 193.6 L481.9 195.6 L482.4 197.6 L482.9 199.6 L483.4 201.6 L483.9 203.6 L484.4 205.6 L484.9 207.6 L485.3 209.6 L485.8 211.6 L486.3 213.6 L486.7 215.6 L487.2 217.6 L487.7 219.6 L488.2 221.6 L488.5 223.6 L488.8 225.6 L488.9 227.6 L489.1 229.6 L489.2 231.6 L489.3 233.6 L489.3 235.6 L489.2 237.6 L489 239.6 L488.8 241.6 L488.5 243.6 L488.2 245.6 L487.8 247.6 L487.2 249.6 L486.6 251.6 L485.9 253.6 L485.3 255.6 L484.6 257.6 L483.8 259.6 L483.1 261.6 L482.4 263.6 L481.9 265.6 L481.5 267.6 L481.1 269.6 L480.6 271.6 L480.1 273.6 L479.6 275.6 L479.1 277.6 L478.6 279.6 L478.1 281.6 L477.6 283.6 L477.2 285.6 L476.8 287.6 L476.4 289.6 L476 291.6 L475.7 293.6 L475.4 295.6 L475.2 297.6 L475 299.6 L474.8 301.6 L474.6 303.6 L474.6 303.7"/>
</g>
<g fill="#471265" stroke="#471265" stroke-linecap="round">
<path stroke-width="7.4" d="M512.7 31H526.3M515.5 122.3H524.8M518.7 277.8H520.8M515.2 284.5H525.9M516.4 291H522.7"/>
<path fill="none" stroke-width="1.5" stroke-linejoin="round" d="M533.3 17.6 L533.8 19.6 L534.3 21.6 L534.7 23.6 L535.1 25.6 L535.5 27.6 L535.7 29.6 L535.8 31.6 L535.7 33.6 L535.5 35.6 L535.3 37.6 L535.1 39.6 L534.7 41.6 L534.1 43.6 L533.3 45.6 L532.4 47.6 L531.6 49.6 L530.9 51.6 L530.1 53.6 L529.4 55.6 L528.6 57.6 L527.9 59.6 L527.3 61.6 L526.7 63.6 L526.1 65.6 L525.6 67.6 L525.1 69.6 L524.7 71.6 L524.3 73.6 L523.9 75.6 L523.6 77.6 L523.3 79.6 L523.2 81.6 L523 83.6 L522.9 85.6 L522.7 87.6 L522.7 89.6 L522.7 91.6 L522.9 93.6 L523.1 95.6 L523.3 97.6 L523.6 99.6 L523.8 101.6 L524.2 103.6 L524.6 105.6 L525 107.6 L525.4 109.6 L525.8 111.6 L526.2 113.6 L526.6 115.6 L526.9 117.6 L527.2 119.6 L527.3 121.6 L527.3 123.6 L527.1 125.6 L527 127.6 L526.7 129.6 L526.4 131.6 L526.2 133.6 L525.9 135.6 L525.7 137.6 L525.4 139.6 L525 141.6 L524.7 143.6 L524.4 145.6 L524 147.6 L523.6 149.6 L523.2 151.6 L522.8 153.6 L522.4 155.6 L522.1 157.6 L521.9 159.6 L521.8 161.6 L521.7 163.6 L521.6 165.6 L521.4 167.6 L521.4 169.6 L521.3 171.6 L521.2 173.6 L521.1 175.6 L521.1 177.6 L521.1 179.6 L521.1 181.6 L521.1 183.6 L521.1 185.6 L521.1 187.6 L521.1 189.6 L521.1 191.6 L521.1 193.6 L521.1 195.6 L521.1 197.6 L521.1 199.6 L521.1 201.6 L521.1 203.6 L521.1 205.6 L521.1 207.6 L521.1 209.6 L521.1 211.6 L521.1 213.6 L521.1 215.6 L521.1 217.6 L521.1 219.6 L521.1 221.6 L521.1 223.6 L521.1 225.6 L521.1 227.6 L521.1 229.6 L521.1 231.6 L521.1 233.6 L521.1 235.6 L521.1 237.6 L521.1 239.6 L521.1 241.6 L521.1 243.6 L521.1 245.6 L521.1 247.6 L521.1 249.6 L521.1 251.6 L521.2 253.6 L521.3 255.6 L521.5 257.6 L521.7 259.6 L521.9 261.6 L522.1 263.6 L522.3 265.6 L522.5 267.6 L522.8 269.6 L523 271.6 L523.1 273.6 L523.3 275.6 L523.4 277.6 L523.4 279.6 L523.4 281.6 L523.4 283.6 L523.4 285.6 L523.4 287.6 L523.3 289.6 L523.3 291.6 L523.2 293.6 L523.2 295.6 L523.1 297.6 L523 299.6 L522.8 301.6 L522.7 303.6"/>
</g>
<g stroke="#111" stroke-width="1.5" fill="none">
<path d="M40 200.4H70.4"/>
<path d="M86.5 244.1H116.9"/>
<path d="M133 266.8H163.4"/>
<path d="M179.6 162.4H210"/>
<path d="M226.3 252.2H256.7"/>
<path d="M273 211.2H303.4"/>
<path d="M319.4 175H349.8"/>
<path d="M366.1 161H396.5"/>
<path d="M412.5 168.6H442.9"/>
<path d="M459.1 216.4H489.5"/>
<path d="M505.8 31.3H536.2"/>
</g>
<rect x="31.6" y="4.7" width="512.6" height="311.8" fill="none" stroke="#000" stroke-width="1.8"/>
<g stroke="#000" stroke-width="1.2">
<path d="M55.2 316.5V322.8"/>
<path d="M101.7 316.5V322.8"/>
<path d="M148.2 316.5V322.8"/>
<path d="M194.8 316.5V322.8"/>
<path d="M241.5 316.5V322.8"/>
<path d="M288.2 316.5V322.8"/>
<path d="M334.6 316.5V322.8"/>
<path d="M381.3 316.5V322.8"/>
<path d="M427.7 316.5V322.8"/>
<path d="M474.3 316.5V322.8"/>
<path d="M521 316.5V322.8"/>
</g>
<g font-family="'Liberation Serif', serif" font-style="italic" font-size="23" text-anchor="middle" fill="#000">
<text x="55.2" y="345.2" font-size="25">θ</text>
<text x="101.7" y="345.2" letter-spacing="0.6">r<tspan font-size="10.5">b</tspan>/r</text>
<text x="148.2" y="345.2">c</text>
<text x="194.8" y="345.2">φ</text>
<text x="241.5" y="345.2">E</text>
<text x="288.2" y="345.2">v</text>
<text x="334.6" y="345.2">P<tspan font-size="11.5">w</tspan></text>
<text x="381.3" y="345.2" letter-spacing="0.8">σ<tspan font-size="11.5">h</tspan></text>
<text x="427.7" y="345.2" letter-spacing="0.8">σ<tspan font-size="12">v</tspan></text>
<text x="474.3" y="345.2" letter-spacing="0.8">σ<tspan font-size="10">H</tspan></text>
<text x="521" y="345.2">r</text>
</g>
<text transform="translate(19.3 160.9) rotate(-90)" text-anchor="middle" font-family="'Liberation Serif', serif" font-size="17.7" fill="#000">Distribution</text>
<text x="276" y="379.6" text-anchor="middle" font-family="'Liberation Serif', serif" font-size="16.6" fill="#000">(<tspan font-weight="bold">b</tspan>)</text>
</svg>
</body></html>
